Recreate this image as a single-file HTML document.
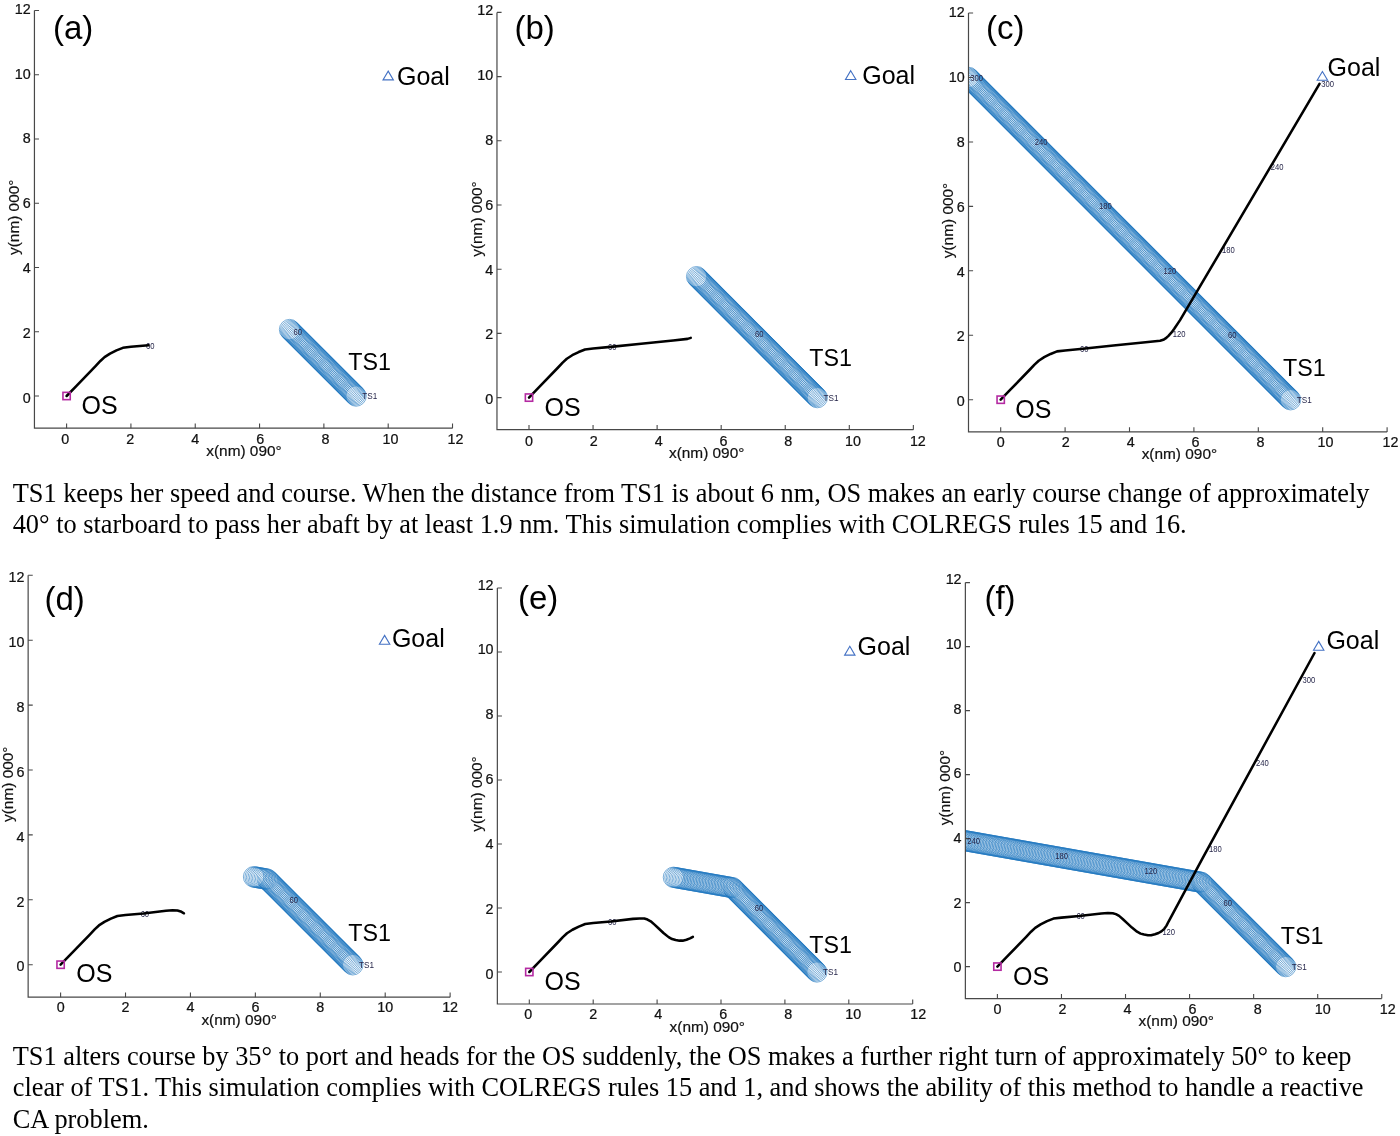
<!DOCTYPE html>
<html lang="en"><head><meta charset="utf-8"><title>Collision avoidance simulation</title>
<style>
html,body{margin:0;padding:0;background:#fff;}
body{width:1400px;height:1136px;overflow:hidden;}
svg{display:block;}
.sans{font-family:"Liberation Sans",Arial,Helvetica,sans-serif;}
.serif{font-family:"Liberation Serif","Times New Roman",Times,serif;}
.tk{font-size:15.4px;fill:#111;stroke:#111;stroke-width:0.25px;}
.al{font-size:15.4px;fill:#111;stroke:#111;stroke-width:0.2px;}
.pl{font-size:33px;fill:#000;}
.big{font-size:25px;fill:#000;}
.sm{font-size:8.5px;fill:#26264a;}
.cap{font-size:26.35px;fill:#000;}
.ts circle{fill:none;stroke:#2077c0;stroke-width:0.6;}
</style></head><body>
<svg width="1400" height="1136" viewBox="0 0 1400 1136" role="img" aria-label="Collision avoidance simulation plots">
<rect width="1400" height="1136" fill="#fff"/>
<g id="panel-a" class="sans">
<clipPath id="clip-a"><rect x="34.44" y="8.44" width="420.08" height="419.69"/></clipPath>
<g class="ts" clip-path="url(#clip-a)">
<circle cx="356.04" cy="396" r="10.23"/><circle cx="354.97" cy="394.93" r="10.23"/><circle cx="353.9" cy="393.86" r="10.23"/><circle cx="352.82" cy="392.79" r="10.23"/><circle cx="351.75" cy="391.72" r="10.23"/><circle cx="350.68" cy="390.64" r="10.23"/>
<circle cx="349.61" cy="389.57" r="10.23"/><circle cx="348.54" cy="388.5" r="10.23"/><circle cx="347.46" cy="387.43" r="10.23"/><circle cx="346.39" cy="386.36" r="10.23"/><circle cx="345.32" cy="385.29" r="10.23"/><circle cx="344.25" cy="384.22" r="10.23"/>
<circle cx="343.18" cy="383.15" r="10.23"/><circle cx="342.1" cy="382.08" r="10.23"/><circle cx="341.03" cy="381.01" r="10.23"/><circle cx="339.96" cy="379.94" r="10.23"/><circle cx="338.89" cy="378.86" r="10.23"/><circle cx="337.82" cy="377.79" r="10.23"/>
<circle cx="336.74" cy="376.72" r="10.23"/><circle cx="335.67" cy="375.65" r="10.23"/><circle cx="334.6" cy="374.58" r="10.23"/><circle cx="333.53" cy="373.51" r="10.23"/><circle cx="332.46" cy="372.44" r="10.23"/><circle cx="331.38" cy="371.37" r="10.23"/>
<circle cx="330.31" cy="370.3" r="10.23"/><circle cx="329.24" cy="369.23" r="10.23"/><circle cx="328.17" cy="368.15" r="10.23"/><circle cx="327.1" cy="367.08" r="10.23"/><circle cx="326.02" cy="366.01" r="10.23"/><circle cx="324.95" cy="364.94" r="10.23"/>
<circle cx="323.88" cy="363.87" r="10.23"/><circle cx="322.81" cy="362.8" r="10.23"/><circle cx="321.74" cy="361.73" r="10.23"/><circle cx="320.66" cy="360.66" r="10.23"/><circle cx="319.59" cy="359.59" r="10.23"/><circle cx="318.52" cy="358.51" r="10.23"/>
<circle cx="317.45" cy="357.44" r="10.23"/><circle cx="316.38" cy="356.37" r="10.23"/><circle cx="315.3" cy="355.3" r="10.23"/><circle cx="314.23" cy="354.23" r="10.23"/><circle cx="313.16" cy="353.16" r="10.23"/><circle cx="312.09" cy="352.09" r="10.23"/>
<circle cx="311.02" cy="351.02" r="10.23"/><circle cx="309.94" cy="349.95" r="10.23"/><circle cx="308.87" cy="348.88" r="10.23"/><circle cx="307.8" cy="347.81" r="10.23"/><circle cx="306.73" cy="346.73" r="10.23"/><circle cx="305.66" cy="345.66" r="10.23"/>
<circle cx="304.58" cy="344.59" r="10.23"/><circle cx="303.51" cy="343.52" r="10.23"/><circle cx="302.44" cy="342.45" r="10.23"/><circle cx="301.37" cy="341.38" r="10.23"/><circle cx="300.3" cy="340.31" r="10.23"/><circle cx="299.22" cy="339.24" r="10.23"/>
<circle cx="298.15" cy="338.17" r="10.23"/><circle cx="297.08" cy="337.1" r="10.23"/><circle cx="296.01" cy="336.02" r="10.23"/><circle cx="294.94" cy="334.95" r="10.23"/><circle cx="293.86" cy="333.88" r="10.23"/><circle cx="292.79" cy="332.81" r="10.23"/>
<circle cx="291.72" cy="331.74" r="10.23"/><circle cx="290.65" cy="330.67" r="10.23"/><circle cx="289.58" cy="329.6" r="10.23"/>
</g>
<path d="M34.44 10.44V428.13H452.52" fill="none" stroke="#484848" stroke-width="1.2"/>
<path d="M66.6 428.13v-4.6M34.44 396h4.6M130.92 428.13v-4.6M34.44 331.74h4.6M195.24 428.13v-4.6M34.44 267.48h4.6M259.56 428.13v-4.6M34.44 203.22h4.6M323.88 428.13v-4.6M34.44 138.96h4.6M388.2 428.13v-4.6M34.44 74.7h4.6M452.52 428.13v-4.6M34.44 10.44h4.6" fill="none" stroke="#484848" stroke-width="1.1"/>
<text class="tk" transform="translate(65.1 444.03) scale(.93 1)" text-anchor="middle">0</text>
<text class="tk" transform="translate(30.64 402.6) scale(.93 1)" text-anchor="end">0</text>
<text class="tk" transform="translate(130.17 444.03) scale(.93 1)" text-anchor="middle">2</text>
<text class="tk" transform="translate(30.64 337.8) scale(.93 1)" text-anchor="end">2</text>
<text class="tk" transform="translate(195.24 444.03) scale(.93 1)" text-anchor="middle">4</text>
<text class="tk" transform="translate(30.64 273) scale(.93 1)" text-anchor="end">4</text>
<text class="tk" transform="translate(260.31 444.03) scale(.93 1)" text-anchor="middle">6</text>
<text class="tk" transform="translate(30.64 208.2) scale(.93 1)" text-anchor="end">6</text>
<text class="tk" transform="translate(325.38 444.03) scale(.93 1)" text-anchor="middle">8</text>
<text class="tk" transform="translate(30.64 143.4) scale(.93 1)" text-anchor="end">8</text>
<text class="tk" transform="translate(390.45 444.03) scale(.93 1)" text-anchor="middle">10</text>
<text class="tk" transform="translate(30.64 78.6) scale(.93 1)" text-anchor="end">10</text>
<text class="tk" transform="translate(455.52 444.03) scale(.93 1)" text-anchor="middle">12</text>
<text class="tk" transform="translate(30.64 13.8) scale(.93 1)" text-anchor="end">12</text>
<text class="al" x="243.98" y="456.33" text-anchor="middle">x(nm) 090°</text>
<text class="al" transform="translate(19.14 217.28) rotate(-90)" text-anchor="middle">y(nm) 000°</text>
<path d="M388.2 71.1l5.2 8.8h-10.4z" fill="none" stroke="#4472c4" stroke-width="1.1"/>
<text class="sm" x="362.24" y="399.3" textLength="15" lengthAdjust="spacingAndGlyphs">TS1</text>
<text class="sm" x="293.52" y="334.84" textLength="8.5" lengthAdjust="spacingAndGlyphs">60</text>
<text class="sm" x="145.91" y="348.66" textLength="8.5" lengthAdjust="spacingAndGlyphs">60</text>
<path d="M66.6 396L76.25 386.04L95.54 366.12L100.37 360.98L104.55 357.12L110.02 353.59L116.45 350.38L122.88 347.81L130.92 346.84L148.61 345.23" fill="none" stroke="#000" stroke-width="2.55" stroke-linejoin="round" stroke-linecap="round"/>
<rect x="62.95" y="392.35" width="7.3" height="7.3" fill="none" stroke="#b42aa2" stroke-width="1.6"/>
<text class="pl" x="53" y="38.6">(a)</text>
<text class="big" x="397" y="84.6">Goal</text>
<text class="big" style="font-size:24.3px" x="348.3" y="369.5" textLength="42.7" lengthAdjust="spacingAndGlyphs">TS1</text>
<text class="big" x="81.6" y="413.8">OS</text>
</g>
<g id="panel-b" class="sans">
<clipPath id="clip-b"><rect x="496.97" y="10.4" width="418.39" height="419.3"/></clipPath>
<g class="ts" clip-path="url(#clip-b)">
<circle cx="817.27" cy="397.6" r="10.19"/><circle cx="816.2" cy="396.53" r="10.19"/><circle cx="815.13" cy="395.46" r="10.19"/><circle cx="814.07" cy="394.39" r="10.19"/><circle cx="813" cy="393.32" r="10.19"/><circle cx="811.93" cy="392.25" r="10.19"/>
<circle cx="810.86" cy="391.18" r="10.19"/><circle cx="809.8" cy="390.11" r="10.19"/><circle cx="808.73" cy="389.04" r="10.19"/><circle cx="807.66" cy="387.97" r="10.19"/><circle cx="806.59" cy="386.9" r="10.19"/><circle cx="805.53" cy="385.83" r="10.19"/>
<circle cx="804.46" cy="384.76" r="10.19"/><circle cx="803.39" cy="383.69" r="10.19"/><circle cx="802.32" cy="382.62" r="10.19"/><circle cx="801.25" cy="381.55" r="10.19"/><circle cx="800.19" cy="380.48" r="10.19"/><circle cx="799.12" cy="379.41" r="10.19"/>
<circle cx="798.05" cy="378.34" r="10.19"/><circle cx="796.98" cy="377.27" r="10.19"/><circle cx="795.92" cy="376.2" r="10.19"/><circle cx="794.85" cy="375.13" r="10.19"/><circle cx="793.78" cy="374.06" r="10.19"/><circle cx="792.71" cy="372.99" r="10.19"/>
<circle cx="791.65" cy="371.92" r="10.19"/><circle cx="790.58" cy="370.85" r="10.19"/><circle cx="789.51" cy="369.78" r="10.19"/><circle cx="788.44" cy="368.71" r="10.19"/><circle cx="787.38" cy="367.64" r="10.19"/><circle cx="786.31" cy="366.57" r="10.19"/>
<circle cx="785.24" cy="365.5" r="10.19"/><circle cx="784.17" cy="364.43" r="10.19"/><circle cx="783.1" cy="363.36" r="10.19"/><circle cx="782.04" cy="362.29" r="10.19"/><circle cx="780.97" cy="361.22" r="10.19"/><circle cx="779.9" cy="360.15" r="10.19"/>
<circle cx="778.83" cy="359.08" r="10.19"/><circle cx="777.77" cy="358.01" r="10.19"/><circle cx="776.7" cy="356.94" r="10.19"/><circle cx="775.63" cy="355.87" r="10.19"/><circle cx="774.56" cy="354.8" r="10.19"/><circle cx="773.5" cy="353.73" r="10.19"/>
<circle cx="772.43" cy="352.66" r="10.19"/><circle cx="771.36" cy="351.59" r="10.19"/><circle cx="770.29" cy="350.52" r="10.19"/><circle cx="769.23" cy="349.45" r="10.19"/><circle cx="768.16" cy="348.38" r="10.19"/><circle cx="767.09" cy="347.31" r="10.19"/>
<circle cx="766.02" cy="346.24" r="10.19"/><circle cx="764.95" cy="345.17" r="10.19"/><circle cx="763.89" cy="344.1" r="10.19"/><circle cx="762.82" cy="343.03" r="10.19"/><circle cx="761.75" cy="341.96" r="10.19"/><circle cx="760.68" cy="340.89" r="10.19"/>
<circle cx="759.62" cy="339.82" r="10.19"/><circle cx="758.55" cy="338.75" r="10.19"/><circle cx="757.48" cy="337.68" r="10.19"/><circle cx="756.41" cy="336.61" r="10.19"/><circle cx="755.35" cy="335.54" r="10.19"/><circle cx="754.28" cy="334.47" r="10.19"/>
<circle cx="753.21" cy="333.4" r="10.19"/><circle cx="752.14" cy="332.33" r="10.19"/><circle cx="751.07" cy="331.26" r="10.19"/><circle cx="750.01" cy="330.19" r="10.19"/><circle cx="748.94" cy="329.12" r="10.19"/><circle cx="747.87" cy="328.05" r="10.19"/>
<circle cx="746.8" cy="326.98" r="10.19"/><circle cx="745.74" cy="325.91" r="10.19"/><circle cx="744.67" cy="324.84" r="10.19"/><circle cx="743.6" cy="323.77" r="10.19"/><circle cx="742.53" cy="322.7" r="10.19"/><circle cx="741.47" cy="321.63" r="10.19"/>
<circle cx="740.4" cy="320.56" r="10.19"/><circle cx="739.33" cy="319.49" r="10.19"/><circle cx="738.26" cy="318.42" r="10.19"/><circle cx="737.19" cy="317.35" r="10.19"/><circle cx="736.13" cy="316.28" r="10.19"/><circle cx="735.06" cy="315.21" r="10.19"/>
<circle cx="733.99" cy="314.14" r="10.19"/><circle cx="732.92" cy="313.07" r="10.19"/><circle cx="731.86" cy="312" r="10.19"/><circle cx="730.79" cy="310.93" r="10.19"/><circle cx="729.72" cy="309.86" r="10.19"/><circle cx="728.65" cy="308.79" r="10.19"/>
<circle cx="727.59" cy="307.72" r="10.19"/><circle cx="726.52" cy="306.65" r="10.19"/><circle cx="725.45" cy="305.58" r="10.19"/><circle cx="724.38" cy="304.51" r="10.19"/><circle cx="723.32" cy="303.44" r="10.19"/><circle cx="722.25" cy="302.37" r="10.19"/>
<circle cx="721.18" cy="301.3" r="10.19"/><circle cx="720.11" cy="300.23" r="10.19"/><circle cx="719.04" cy="299.16" r="10.19"/><circle cx="717.98" cy="298.09" r="10.19"/><circle cx="716.91" cy="297.02" r="10.19"/><circle cx="715.84" cy="295.95" r="10.19"/>
<circle cx="714.77" cy="294.88" r="10.19"/><circle cx="713.71" cy="293.81" r="10.19"/><circle cx="712.64" cy="292.74" r="10.19"/><circle cx="711.57" cy="291.67" r="10.19"/><circle cx="710.5" cy="290.6" r="10.19"/><circle cx="709.44" cy="289.53" r="10.19"/>
<circle cx="708.37" cy="288.46" r="10.19"/><circle cx="707.3" cy="287.39" r="10.19"/><circle cx="706.23" cy="286.32" r="10.19"/><circle cx="705.16" cy="285.25" r="10.19"/><circle cx="704.1" cy="284.18" r="10.19"/><circle cx="703.03" cy="283.11" r="10.19"/>
<circle cx="701.96" cy="282.04" r="10.19"/><circle cx="700.89" cy="280.97" r="10.19"/><circle cx="699.83" cy="279.9" r="10.19"/><circle cx="698.76" cy="278.83" r="10.19"/><circle cx="697.69" cy="277.76" r="10.19"/><circle cx="696.62" cy="276.69" r="10.19"/>
</g>
<path d="M496.97 12.4V429.7H913.36" fill="none" stroke="#484848" stroke-width="1.2"/>
<path d="M529 429.7v-4.6M496.97 397.6h4.6M593.06 429.7v-4.6M496.97 333.4h4.6M657.12 429.7v-4.6M496.97 269.2h4.6M721.18 429.7v-4.6M496.97 205h4.6M785.24 429.7v-4.6M496.97 140.8h4.6M849.3 429.7v-4.6M496.97 76.6h4.6M913.36 429.7v-4.6M496.97 12.4h4.6" fill="none" stroke="#484848" stroke-width="1.1"/>
<text class="tk" transform="translate(529 445.6) scale(.93 1)" text-anchor="middle">0</text>
<text class="tk" transform="translate(493.17 404.25) scale(.93 1)" text-anchor="end">0</text>
<text class="tk" transform="translate(593.81 445.6) scale(.93 1)" text-anchor="middle">2</text>
<text class="tk" transform="translate(493.17 339.39) scale(.93 1)" text-anchor="end">2</text>
<text class="tk" transform="translate(658.62 445.6) scale(.93 1)" text-anchor="middle">4</text>
<text class="tk" transform="translate(493.17 274.53) scale(.93 1)" text-anchor="end">4</text>
<text class="tk" transform="translate(723.43 445.6) scale(.93 1)" text-anchor="middle">6</text>
<text class="tk" transform="translate(493.17 209.67) scale(.93 1)" text-anchor="end">6</text>
<text class="tk" transform="translate(788.24 445.6) scale(.93 1)" text-anchor="middle">8</text>
<text class="tk" transform="translate(493.17 144.81) scale(.93 1)" text-anchor="end">8</text>
<text class="tk" transform="translate(853.05 445.6) scale(.93 1)" text-anchor="middle">10</text>
<text class="tk" transform="translate(493.17 79.95) scale(.93 1)" text-anchor="end">10</text>
<text class="tk" transform="translate(917.86 445.6) scale(.93 1)" text-anchor="middle">12</text>
<text class="tk" transform="translate(493.17 15.09) scale(.93 1)" text-anchor="end">12</text>
<text class="al" x="706.66" y="457.7" text-anchor="middle">x(nm) 090°</text>
<text class="al" transform="translate(481.67 219.05) rotate(-90)" text-anchor="middle">y(nm) 000°</text>
<path d="M850.7 70.7l5.2 8.8h-10.4z" fill="none" stroke="#4472c4" stroke-width="1.1"/>
<text class="sm" x="823.47" y="400.9" textLength="15" lengthAdjust="spacingAndGlyphs">TS1</text>
<text class="sm" x="755.01" y="336.5" textLength="8.5" lengthAdjust="spacingAndGlyphs">60</text>
<text class="sm" x="607.99" y="350.3" textLength="8.5" lengthAdjust="spacingAndGlyphs">60</text>
<path d="M529 397.6L538.61 387.65L557.83 367.75L562.63 362.61L566.8 358.76L572.24 355.23L578.65 352.02L585.05 349.45L593.06 348.49L610.68 346.88L641.11 343.67L673.13 340.46L687.55 338.86L690.75 337.89" fill="none" stroke="#000" stroke-width="2.55" stroke-linejoin="round" stroke-linecap="round"/>
<rect x="525.35" y="393.95" width="7.3" height="7.3" fill="none" stroke="#b42aa2" stroke-width="1.6"/>
<text class="pl" x="514.4" y="38.6">(b)</text>
<text class="big" x="862.2" y="84.1">Goal</text>
<text class="big" style="font-size:24.3px" x="809.2" y="366.2" textLength="42.7" lengthAdjust="spacingAndGlyphs">TS1</text>
<text class="big" x="544.5" y="415.9">OS</text>
</g>
<g id="panel-c" class="sans">
<clipPath id="clip-c"><rect x="968.5" y="11.06" width="420.6" height="420.86"/></clipPath>
<g class="ts" clip-path="url(#clip-c)">
<circle cx="1290.5" cy="399.7" r="10.24"/><circle cx="1289.43" cy="398.63" r="10.24"/><circle cx="1288.35" cy="397.55" r="10.24"/><circle cx="1287.28" cy="396.48" r="10.24"/><circle cx="1286.21" cy="395.4" r="10.24"/><circle cx="1285.13" cy="394.33" r="10.24"/>
<circle cx="1284.06" cy="393.26" r="10.24"/><circle cx="1282.99" cy="392.18" r="10.24"/><circle cx="1281.91" cy="391.11" r="10.24"/><circle cx="1280.84" cy="390.03" r="10.24"/><circle cx="1279.77" cy="388.96" r="10.24"/><circle cx="1278.69" cy="387.89" r="10.24"/>
<circle cx="1277.62" cy="386.81" r="10.24"/><circle cx="1276.55" cy="385.74" r="10.24"/><circle cx="1275.47" cy="384.66" r="10.24"/><circle cx="1274.4" cy="383.59" r="10.24"/><circle cx="1273.33" cy="382.52" r="10.24"/><circle cx="1272.25" cy="381.44" r="10.24"/>
<circle cx="1271.18" cy="380.37" r="10.24"/><circle cx="1270.11" cy="379.29" r="10.24"/><circle cx="1269.03" cy="378.22" r="10.24"/><circle cx="1267.96" cy="377.15" r="10.24"/><circle cx="1266.89" cy="376.07" r="10.24"/><circle cx="1265.81" cy="375" r="10.24"/>
<circle cx="1264.74" cy="373.92" r="10.24"/><circle cx="1263.67" cy="372.85" r="10.24"/><circle cx="1262.59" cy="371.78" r="10.24"/><circle cx="1261.52" cy="370.7" r="10.24"/><circle cx="1260.45" cy="369.63" r="10.24"/><circle cx="1259.37" cy="368.55" r="10.24"/>
<circle cx="1258.3" cy="367.48" r="10.24"/><circle cx="1257.23" cy="366.41" r="10.24"/><circle cx="1256.15" cy="365.33" r="10.24"/><circle cx="1255.08" cy="364.26" r="10.24"/><circle cx="1254.01" cy="363.18" r="10.24"/><circle cx="1252.93" cy="362.11" r="10.24"/>
<circle cx="1251.86" cy="361.04" r="10.24"/><circle cx="1250.79" cy="359.96" r="10.24"/><circle cx="1249.71" cy="358.89" r="10.24"/><circle cx="1248.64" cy="357.81" r="10.24"/><circle cx="1247.57" cy="356.74" r="10.24"/><circle cx="1246.49" cy="355.67" r="10.24"/>
<circle cx="1245.42" cy="354.59" r="10.24"/><circle cx="1244.35" cy="353.52" r="10.24"/><circle cx="1243.27" cy="352.44" r="10.24"/><circle cx="1242.2" cy="351.37" r="10.24"/><circle cx="1241.13" cy="350.3" r="10.24"/><circle cx="1240.05" cy="349.22" r="10.24"/>
<circle cx="1238.98" cy="348.15" r="10.24"/><circle cx="1237.91" cy="347.07" r="10.24"/><circle cx="1236.83" cy="346" r="10.24"/><circle cx="1235.76" cy="344.93" r="10.24"/><circle cx="1234.69" cy="343.85" r="10.24"/><circle cx="1233.61" cy="342.78" r="10.24"/>
<circle cx="1232.54" cy="341.7" r="10.24"/><circle cx="1231.47" cy="340.63" r="10.24"/><circle cx="1230.39" cy="339.56" r="10.24"/><circle cx="1229.32" cy="338.48" r="10.24"/><circle cx="1228.25" cy="337.41" r="10.24"/><circle cx="1227.17" cy="336.33" r="10.24"/>
<circle cx="1226.1" cy="335.26" r="10.24"/><circle cx="1225.03" cy="334.19" r="10.24"/><circle cx="1223.95" cy="333.11" r="10.24"/><circle cx="1222.88" cy="332.04" r="10.24"/><circle cx="1221.81" cy="330.96" r="10.24"/><circle cx="1220.73" cy="329.89" r="10.24"/>
<circle cx="1219.66" cy="328.82" r="10.24"/><circle cx="1218.59" cy="327.74" r="10.24"/><circle cx="1217.51" cy="326.67" r="10.24"/><circle cx="1216.44" cy="325.59" r="10.24"/><circle cx="1215.37" cy="324.52" r="10.24"/><circle cx="1214.29" cy="323.45" r="10.24"/>
<circle cx="1213.22" cy="322.37" r="10.24"/><circle cx="1212.15" cy="321.3" r="10.24"/><circle cx="1211.07" cy="320.22" r="10.24"/><circle cx="1210" cy="319.15" r="10.24"/><circle cx="1208.93" cy="318.08" r="10.24"/><circle cx="1207.85" cy="317" r="10.24"/>
<circle cx="1206.78" cy="315.93" r="10.24"/><circle cx="1205.71" cy="314.85" r="10.24"/><circle cx="1204.63" cy="313.78" r="10.24"/><circle cx="1203.56" cy="312.71" r="10.24"/><circle cx="1202.49" cy="311.63" r="10.24"/><circle cx="1201.41" cy="310.56" r="10.24"/>
<circle cx="1200.34" cy="309.48" r="10.24"/><circle cx="1199.27" cy="308.41" r="10.24"/><circle cx="1198.19" cy="307.34" r="10.24"/><circle cx="1197.12" cy="306.26" r="10.24"/><circle cx="1196.05" cy="305.19" r="10.24"/><circle cx="1194.97" cy="304.11" r="10.24"/>
<circle cx="1193.9" cy="303.04" r="10.24"/><circle cx="1192.83" cy="301.97" r="10.24"/><circle cx="1191.75" cy="300.89" r="10.24"/><circle cx="1190.68" cy="299.82" r="10.24"/><circle cx="1189.61" cy="298.74" r="10.24"/><circle cx="1188.53" cy="297.67" r="10.24"/>
<circle cx="1187.46" cy="296.6" r="10.24"/><circle cx="1186.39" cy="295.52" r="10.24"/><circle cx="1185.31" cy="294.45" r="10.24"/><circle cx="1184.24" cy="293.37" r="10.24"/><circle cx="1183.17" cy="292.3" r="10.24"/><circle cx="1182.09" cy="291.23" r="10.24"/>
<circle cx="1181.02" cy="290.15" r="10.24"/><circle cx="1179.95" cy="289.08" r="10.24"/><circle cx="1178.87" cy="288" r="10.24"/><circle cx="1177.8" cy="286.93" r="10.24"/><circle cx="1176.73" cy="285.86" r="10.24"/><circle cx="1175.65" cy="284.78" r="10.24"/>
<circle cx="1174.58" cy="283.71" r="10.24"/><circle cx="1173.51" cy="282.63" r="10.24"/><circle cx="1172.43" cy="281.56" r="10.24"/><circle cx="1171.36" cy="280.49" r="10.24"/><circle cx="1170.29" cy="279.41" r="10.24"/><circle cx="1169.21" cy="278.34" r="10.24"/>
<circle cx="1168.14" cy="277.26" r="10.24"/><circle cx="1167.07" cy="276.19" r="10.24"/><circle cx="1165.99" cy="275.12" r="10.24"/><circle cx="1164.92" cy="274.04" r="10.24"/><circle cx="1163.85" cy="272.97" r="10.24"/><circle cx="1162.77" cy="271.89" r="10.24"/>
<circle cx="1161.7" cy="270.82" r="10.24"/><circle cx="1160.63" cy="269.75" r="10.24"/><circle cx="1159.55" cy="268.67" r="10.24"/><circle cx="1158.48" cy="267.6" r="10.24"/><circle cx="1157.41" cy="266.52" r="10.24"/><circle cx="1156.33" cy="265.45" r="10.24"/>
<circle cx="1155.26" cy="264.38" r="10.24"/><circle cx="1154.19" cy="263.3" r="10.24"/><circle cx="1153.11" cy="262.23" r="10.24"/><circle cx="1152.04" cy="261.15" r="10.24"/><circle cx="1150.97" cy="260.08" r="10.24"/><circle cx="1149.89" cy="259.01" r="10.24"/>
<circle cx="1148.82" cy="257.93" r="10.24"/><circle cx="1147.75" cy="256.86" r="10.24"/><circle cx="1146.67" cy="255.78" r="10.24"/><circle cx="1145.6" cy="254.71" r="10.24"/><circle cx="1144.53" cy="253.64" r="10.24"/><circle cx="1143.45" cy="252.56" r="10.24"/>
<circle cx="1142.38" cy="251.49" r="10.24"/><circle cx="1141.31" cy="250.41" r="10.24"/><circle cx="1140.23" cy="249.34" r="10.24"/><circle cx="1139.16" cy="248.27" r="10.24"/><circle cx="1138.09" cy="247.19" r="10.24"/><circle cx="1137.01" cy="246.12" r="10.24"/>
<circle cx="1135.94" cy="245.04" r="10.24"/><circle cx="1134.87" cy="243.97" r="10.24"/><circle cx="1133.79" cy="242.9" r="10.24"/><circle cx="1132.72" cy="241.82" r="10.24"/><circle cx="1131.65" cy="240.75" r="10.24"/><circle cx="1130.57" cy="239.67" r="10.24"/>
<circle cx="1129.5" cy="238.6" r="10.24"/><circle cx="1128.43" cy="237.53" r="10.24"/><circle cx="1127.35" cy="236.45" r="10.24"/><circle cx="1126.28" cy="235.38" r="10.24"/><circle cx="1125.21" cy="234.3" r="10.24"/><circle cx="1124.13" cy="233.23" r="10.24"/>
<circle cx="1123.06" cy="232.16" r="10.24"/><circle cx="1121.99" cy="231.08" r="10.24"/><circle cx="1120.91" cy="230.01" r="10.24"/><circle cx="1119.84" cy="228.93" r="10.24"/><circle cx="1118.77" cy="227.86" r="10.24"/><circle cx="1117.69" cy="226.79" r="10.24"/>
<circle cx="1116.62" cy="225.71" r="10.24"/><circle cx="1115.55" cy="224.64" r="10.24"/><circle cx="1114.47" cy="223.56" r="10.24"/><circle cx="1113.4" cy="222.49" r="10.24"/><circle cx="1112.33" cy="221.42" r="10.24"/><circle cx="1111.25" cy="220.34" r="10.24"/>
<circle cx="1110.18" cy="219.27" r="10.24"/><circle cx="1109.11" cy="218.19" r="10.24"/><circle cx="1108.03" cy="217.12" r="10.24"/><circle cx="1106.96" cy="216.05" r="10.24"/><circle cx="1105.89" cy="214.97" r="10.24"/><circle cx="1104.81" cy="213.9" r="10.24"/>
<circle cx="1103.74" cy="212.82" r="10.24"/><circle cx="1102.67" cy="211.75" r="10.24"/><circle cx="1101.59" cy="210.68" r="10.24"/><circle cx="1100.52" cy="209.6" r="10.24"/><circle cx="1099.45" cy="208.53" r="10.24"/><circle cx="1098.37" cy="207.45" r="10.24"/>
<circle cx="1097.3" cy="206.38" r="10.24"/><circle cx="1096.23" cy="205.31" r="10.24"/><circle cx="1095.15" cy="204.23" r="10.24"/><circle cx="1094.08" cy="203.16" r="10.24"/><circle cx="1093.01" cy="202.08" r="10.24"/><circle cx="1091.93" cy="201.01" r="10.24"/>
<circle cx="1090.86" cy="199.94" r="10.24"/><circle cx="1089.79" cy="198.86" r="10.24"/><circle cx="1088.71" cy="197.79" r="10.24"/><circle cx="1087.64" cy="196.71" r="10.24"/><circle cx="1086.57" cy="195.64" r="10.24"/><circle cx="1085.49" cy="194.57" r="10.24"/>
<circle cx="1084.42" cy="193.49" r="10.24"/><circle cx="1083.35" cy="192.42" r="10.24"/><circle cx="1082.27" cy="191.34" r="10.24"/><circle cx="1081.2" cy="190.27" r="10.24"/><circle cx="1080.13" cy="189.2" r="10.24"/><circle cx="1079.05" cy="188.12" r="10.24"/>
<circle cx="1077.98" cy="187.05" r="10.24"/><circle cx="1076.91" cy="185.97" r="10.24"/><circle cx="1075.83" cy="184.9" r="10.24"/><circle cx="1074.76" cy="183.83" r="10.24"/><circle cx="1073.69" cy="182.75" r="10.24"/><circle cx="1072.61" cy="181.68" r="10.24"/>
<circle cx="1071.54" cy="180.6" r="10.24"/><circle cx="1070.47" cy="179.53" r="10.24"/><circle cx="1069.39" cy="178.46" r="10.24"/><circle cx="1068.32" cy="177.38" r="10.24"/><circle cx="1067.25" cy="176.31" r="10.24"/><circle cx="1066.17" cy="175.23" r="10.24"/>
<circle cx="1065.1" cy="174.16" r="10.24"/><circle cx="1064.03" cy="173.09" r="10.24"/><circle cx="1062.95" cy="172.01" r="10.24"/><circle cx="1061.88" cy="170.94" r="10.24"/><circle cx="1060.81" cy="169.86" r="10.24"/><circle cx="1059.73" cy="168.79" r="10.24"/>
<circle cx="1058.66" cy="167.72" r="10.24"/><circle cx="1057.59" cy="166.64" r="10.24"/><circle cx="1056.51" cy="165.57" r="10.24"/><circle cx="1055.44" cy="164.49" r="10.24"/><circle cx="1054.37" cy="163.42" r="10.24"/><circle cx="1053.29" cy="162.35" r="10.24"/>
<circle cx="1052.22" cy="161.27" r="10.24"/><circle cx="1051.15" cy="160.2" r="10.24"/><circle cx="1050.07" cy="159.12" r="10.24"/><circle cx="1049" cy="158.05" r="10.24"/><circle cx="1047.93" cy="156.98" r="10.24"/><circle cx="1046.85" cy="155.9" r="10.24"/>
<circle cx="1045.78" cy="154.83" r="10.24"/><circle cx="1044.71" cy="153.75" r="10.24"/><circle cx="1043.63" cy="152.68" r="10.24"/><circle cx="1042.56" cy="151.61" r="10.24"/><circle cx="1041.49" cy="150.53" r="10.24"/><circle cx="1040.41" cy="149.46" r="10.24"/>
<circle cx="1039.34" cy="148.38" r="10.24"/><circle cx="1038.27" cy="147.31" r="10.24"/><circle cx="1037.19" cy="146.24" r="10.24"/><circle cx="1036.12" cy="145.16" r="10.24"/><circle cx="1035.05" cy="144.09" r="10.24"/><circle cx="1033.97" cy="143.01" r="10.24"/>
<circle cx="1032.9" cy="141.94" r="10.24"/><circle cx="1031.83" cy="140.87" r="10.24"/><circle cx="1030.75" cy="139.79" r="10.24"/><circle cx="1029.68" cy="138.72" r="10.24"/><circle cx="1028.61" cy="137.64" r="10.24"/><circle cx="1027.53" cy="136.57" r="10.24"/>
<circle cx="1026.46" cy="135.5" r="10.24"/><circle cx="1025.39" cy="134.42" r="10.24"/><circle cx="1024.31" cy="133.35" r="10.24"/><circle cx="1023.24" cy="132.27" r="10.24"/><circle cx="1022.17" cy="131.2" r="10.24"/><circle cx="1021.09" cy="130.13" r="10.24"/>
<circle cx="1020.02" cy="129.05" r="10.24"/><circle cx="1018.95" cy="127.98" r="10.24"/><circle cx="1017.87" cy="126.9" r="10.24"/><circle cx="1016.8" cy="125.83" r="10.24"/><circle cx="1015.73" cy="124.76" r="10.24"/><circle cx="1014.65" cy="123.68" r="10.24"/>
<circle cx="1013.58" cy="122.61" r="10.24"/><circle cx="1012.51" cy="121.53" r="10.24"/><circle cx="1011.43" cy="120.46" r="10.24"/><circle cx="1010.36" cy="119.39" r="10.24"/><circle cx="1009.29" cy="118.31" r="10.24"/><circle cx="1008.21" cy="117.24" r="10.24"/>
<circle cx="1007.14" cy="116.16" r="10.24"/><circle cx="1006.07" cy="115.09" r="10.24"/><circle cx="1004.99" cy="114.02" r="10.24"/><circle cx="1003.92" cy="112.94" r="10.24"/><circle cx="1002.85" cy="111.87" r="10.24"/><circle cx="1001.77" cy="110.79" r="10.24"/>
<circle cx="1000.7" cy="109.72" r="10.24"/><circle cx="999.63" cy="108.65" r="10.24"/><circle cx="998.55" cy="107.57" r="10.24"/><circle cx="997.48" cy="106.5" r="10.24"/><circle cx="996.41" cy="105.42" r="10.24"/><circle cx="995.33" cy="104.35" r="10.24"/>
<circle cx="994.26" cy="103.28" r="10.24"/><circle cx="993.19" cy="102.2" r="10.24"/><circle cx="992.11" cy="101.13" r="10.24"/><circle cx="991.04" cy="100.05" r="10.24"/><circle cx="989.97" cy="98.98" r="10.24"/><circle cx="988.89" cy="97.91" r="10.24"/>
<circle cx="987.82" cy="96.83" r="10.24"/><circle cx="986.75" cy="95.76" r="10.24"/><circle cx="985.67" cy="94.68" r="10.24"/><circle cx="984.6" cy="93.61" r="10.24"/><circle cx="983.53" cy="92.54" r="10.24"/><circle cx="982.45" cy="91.46" r="10.24"/>
<circle cx="981.38" cy="90.39" r="10.24"/><circle cx="980.31" cy="89.31" r="10.24"/><circle cx="979.23" cy="88.24" r="10.24"/><circle cx="978.16" cy="87.17" r="10.24"/><circle cx="977.09" cy="86.09" r="10.24"/><circle cx="976.01" cy="85.02" r="10.24"/>
<circle cx="974.94" cy="83.94" r="10.24"/><circle cx="973.87" cy="82.87" r="10.24"/><circle cx="972.79" cy="81.8" r="10.24"/><circle cx="971.72" cy="80.72" r="10.24"/><circle cx="970.65" cy="79.65" r="10.24"/><circle cx="969.57" cy="78.57" r="10.24"/>
<circle cx="968.5" cy="77.5" r="10.24"/>
</g>
<path d="M968.5 13.06V431.92H1387.1" fill="none" stroke="#484848" stroke-width="1.2"/>
<path d="M1000.7 431.92v-4.6M968.5 399.7h4.6M1065.1 431.92v-4.6M968.5 335.26h4.6M1129.5 431.92v-4.6M968.5 270.82h4.6M1193.9 431.92v-4.6M968.5 206.38h4.6M1258.3 431.92v-4.6M968.5 141.94h4.6M1322.7 431.92v-4.6M968.5 77.5h4.6M1387.1 431.92v-4.6M968.5 13.06h4.6" fill="none" stroke="#484848" stroke-width="1.1"/>
<text class="tk" transform="translate(1000.7 447.32) scale(.93 1)" text-anchor="middle">0</text>
<text class="tk" transform="translate(964.7 406.3) scale(.93 1)" text-anchor="end">0</text>
<text class="tk" transform="translate(1065.66 447.32) scale(.93 1)" text-anchor="middle">2</text>
<text class="tk" transform="translate(964.7 341.42) scale(.93 1)" text-anchor="end">2</text>
<text class="tk" transform="translate(1130.62 447.32) scale(.93 1)" text-anchor="middle">4</text>
<text class="tk" transform="translate(964.7 276.54) scale(.93 1)" text-anchor="end">4</text>
<text class="tk" transform="translate(1195.58 447.32) scale(.93 1)" text-anchor="middle">6</text>
<text class="tk" transform="translate(964.7 211.66) scale(.93 1)" text-anchor="end">6</text>
<text class="tk" transform="translate(1260.54 447.32) scale(.93 1)" text-anchor="middle">8</text>
<text class="tk" transform="translate(964.7 146.78) scale(.93 1)" text-anchor="end">8</text>
<text class="tk" transform="translate(1325.5 447.32) scale(.93 1)" text-anchor="middle">10</text>
<text class="tk" transform="translate(964.7 81.9) scale(.93 1)" text-anchor="end">10</text>
<text class="tk" transform="translate(1390.46 447.32) scale(.93 1)" text-anchor="middle">12</text>
<text class="tk" transform="translate(964.7 17.02) scale(.93 1)" text-anchor="end">12</text>
<text class="al" x="1179.4" y="459.42" text-anchor="middle">x(nm) 090°</text>
<text class="al" transform="translate(953.2 220.49) rotate(-90)" text-anchor="middle">y(nm) 000°</text>
<path d="M1322.4 71.5l5.2 8.8h-10.4z" fill="none" stroke="#4472c4" stroke-width="1.1"/>
<text class="sm" x="1296.7" y="403" textLength="15" lengthAdjust="spacingAndGlyphs">TS1</text>
<text class="sm" x="1227.9" y="338.36" textLength="8.5" lengthAdjust="spacingAndGlyphs">60</text>
<text class="sm" x="1163.5" y="273.92" textLength="12.75" lengthAdjust="spacingAndGlyphs">120</text>
<text class="sm" x="1099.1" y="209.48" textLength="12.75" lengthAdjust="spacingAndGlyphs">180</text>
<text class="sm" x="1034.7" y="145.04" textLength="12.75" lengthAdjust="spacingAndGlyphs">240</text>
<text class="sm" x="970.3" y="80.6" textLength="12.75" lengthAdjust="spacingAndGlyphs">300</text>
<text class="sm" x="1080.1" y="352.21" textLength="8.5" lengthAdjust="spacingAndGlyphs">60</text>
<text class="sm" x="1172.84" y="337.07" textLength="12.75" lengthAdjust="spacingAndGlyphs">120</text>
<text class="sm" x="1222.1" y="252.65" textLength="12.75" lengthAdjust="spacingAndGlyphs">180</text>
<text class="sm" x="1270.73" y="170.49" textLength="12.75" lengthAdjust="spacingAndGlyphs">240</text>
<text class="sm" x="1321.28" y="87.04" textLength="12.75" lengthAdjust="spacingAndGlyphs">300</text>
<path d="M1000.7 399.7L1010.36 389.71L1029.68 369.74L1034.51 364.58L1038.7 360.71L1044.17 357.17L1050.61 353.95L1057.05 351.37L1065.1 350.4L1082.81 348.79L1113.4 345.57L1145.6 342.35L1160.09 340.74L1163.31 339.77L1165.56 338.48L1168.46 335.9L1171.36 332.68L1174.26 328.82L1180.05 320.12L1319.48 83.94" fill="none" stroke="#000" stroke-width="2.55" stroke-linejoin="round" stroke-linecap="round"/>
<rect x="997.05" y="396.05" width="7.3" height="7.3" fill="none" stroke="#b42aa2" stroke-width="1.6"/>
<text class="pl" x="985.9" y="38.6">(c)</text>
<text class="big" x="1327.6" y="75.7">Goal</text>
<text class="big" style="font-size:24.3px" x="1283" y="376" textLength="42.7" lengthAdjust="spacingAndGlyphs">TS1</text>
<text class="big" x="1015.2" y="417.9">OS</text>
</g>
<g id="panel-d" class="sans">
<clipPath id="clip-d"><rect x="28.14" y="573.3" width="423.98" height="423.85"/></clipPath>
<g class="ts" clip-path="url(#clip-d)">
<circle cx="352.74" cy="964.7" r="10.32"/><circle cx="351.66" cy="963.62" r="10.32"/><circle cx="350.58" cy="962.54" r="10.32"/><circle cx="349.49" cy="961.46" r="10.32"/><circle cx="348.41" cy="960.37" r="10.32"/><circle cx="347.33" cy="959.29" r="10.32"/>
<circle cx="346.25" cy="958.21" r="10.32"/><circle cx="345.17" cy="957.13" r="10.32"/><circle cx="344.08" cy="956.05" r="10.32"/><circle cx="343" cy="954.97" r="10.32"/><circle cx="341.92" cy="953.88" r="10.32"/><circle cx="340.84" cy="952.8" r="10.32"/>
<circle cx="339.76" cy="951.72" r="10.32"/><circle cx="338.67" cy="950.64" r="10.32"/><circle cx="337.59" cy="949.56" r="10.32"/><circle cx="336.51" cy="948.48" r="10.32"/><circle cx="335.43" cy="947.39" r="10.32"/><circle cx="334.35" cy="946.31" r="10.32"/>
<circle cx="333.26" cy="945.23" r="10.32"/><circle cx="332.18" cy="944.15" r="10.32"/><circle cx="331.1" cy="943.07" r="10.32"/><circle cx="330.02" cy="941.99" r="10.32"/><circle cx="328.94" cy="940.9" r="10.32"/><circle cx="327.85" cy="939.82" r="10.32"/>
<circle cx="326.77" cy="938.74" r="10.32"/><circle cx="325.69" cy="937.66" r="10.32"/><circle cx="324.61" cy="936.58" r="10.32"/><circle cx="323.53" cy="935.5" r="10.32"/><circle cx="322.44" cy="934.41" r="10.32"/><circle cx="321.36" cy="933.33" r="10.32"/>
<circle cx="320.28" cy="932.25" r="10.32"/><circle cx="319.2" cy="931.17" r="10.32"/><circle cx="318.12" cy="930.09" r="10.32"/><circle cx="317.03" cy="929" r="10.32"/><circle cx="315.95" cy="927.92" r="10.32"/><circle cx="314.87" cy="926.84" r="10.32"/>
<circle cx="313.79" cy="925.76" r="10.32"/><circle cx="312.71" cy="924.68" r="10.32"/><circle cx="311.62" cy="923.6" r="10.32"/><circle cx="310.54" cy="922.52" r="10.32"/><circle cx="309.46" cy="921.43" r="10.32"/><circle cx="308.38" cy="920.35" r="10.32"/>
<circle cx="307.3" cy="919.27" r="10.32"/><circle cx="306.21" cy="918.19" r="10.32"/><circle cx="305.13" cy="917.11" r="10.32"/><circle cx="304.05" cy="916.03" r="10.32"/><circle cx="302.97" cy="914.94" r="10.32"/><circle cx="301.89" cy="913.86" r="10.32"/>
<circle cx="300.8" cy="912.78" r="10.32"/><circle cx="299.72" cy="911.7" r="10.32"/><circle cx="298.64" cy="910.62" r="10.32"/><circle cx="297.56" cy="909.54" r="10.32"/><circle cx="296.48" cy="908.45" r="10.32"/><circle cx="295.39" cy="907.37" r="10.32"/>
<circle cx="294.31" cy="906.29" r="10.32"/><circle cx="293.23" cy="905.21" r="10.32"/><circle cx="292.15" cy="904.13" r="10.32"/><circle cx="291.07" cy="903.05" r="10.32"/><circle cx="289.98" cy="901.96" r="10.32"/><circle cx="288.9" cy="900.88" r="10.32"/>
<circle cx="287.82" cy="899.8" r="10.32"/><circle cx="286.74" cy="898.72" r="10.32"/><circle cx="285.66" cy="897.64" r="10.32"/><circle cx="284.57" cy="896.56" r="10.32"/><circle cx="283.49" cy="895.47" r="10.32"/><circle cx="282.41" cy="894.39" r="10.32"/>
<circle cx="281.33" cy="893.31" r="10.32"/><circle cx="280.25" cy="892.23" r="10.32"/><circle cx="279.16" cy="891.15" r="10.32"/><circle cx="278.08" cy="890.07" r="10.32"/><circle cx="277" cy="888.98" r="10.32"/><circle cx="275.92" cy="887.9" r="10.32"/>
<circle cx="274.84" cy="886.82" r="10.32"/><circle cx="273.75" cy="885.74" r="10.32"/><circle cx="272.67" cy="884.66" r="10.32"/><circle cx="271.59" cy="883.58" r="10.32"/><circle cx="270.51" cy="882.49" r="10.32"/><circle cx="269.43" cy="881.41" r="10.32"/>
<circle cx="268.34" cy="880.33" r="10.32"/><circle cx="267.26" cy="879.25" r="10.32"/><circle cx="265.76" cy="878.98" r="10.32"/><circle cx="264.25" cy="878.72" r="10.32"/><circle cx="262.74" cy="878.45" r="10.32"/><circle cx="261.23" cy="878.19" r="10.32"/>
<circle cx="259.73" cy="877.92" r="10.32"/><circle cx="258.22" cy="877.65" r="10.32"/><circle cx="256.71" cy="877.39" r="10.32"/><circle cx="255.21" cy="877.12" r="10.32"/><circle cx="253.7" cy="876.86" r="10.32"/>
</g>
<path d="M28.14 575.3V997.15H450.12" fill="none" stroke="#484848" stroke-width="1.2"/>
<path d="M60.6 997.15v-4.6M28.14 964.7h4.6M125.52 997.15v-4.6M28.14 899.8h4.6M190.44 997.15v-4.6M28.14 834.9h4.6M255.36 997.15v-4.6M28.14 770h4.6M320.28 997.15v-4.6M28.14 705.1h4.6M385.2 997.15v-4.6M28.14 640.2h4.6M450.12 997.15v-4.6M28.14 575.3h4.6" fill="none" stroke="#484848" stroke-width="1.1"/>
<text class="tk" transform="translate(60.6 1012.35) scale(.93 1)" text-anchor="middle">0</text>
<text class="tk" transform="translate(24.34 971.45) scale(.93 1)" text-anchor="end">0</text>
<text class="tk" transform="translate(125.52 1012.35) scale(.93 1)" text-anchor="middle">2</text>
<text class="tk" transform="translate(24.34 906.61) scale(.93 1)" text-anchor="end">2</text>
<text class="tk" transform="translate(190.44 1012.35) scale(.93 1)" text-anchor="middle">4</text>
<text class="tk" transform="translate(24.34 841.77) scale(.93 1)" text-anchor="end">4</text>
<text class="tk" transform="translate(255.36 1012.35) scale(.93 1)" text-anchor="middle">6</text>
<text class="tk" transform="translate(24.34 776.93) scale(.93 1)" text-anchor="end">6</text>
<text class="tk" transform="translate(320.28 1012.35) scale(.93 1)" text-anchor="middle">8</text>
<text class="tk" transform="translate(24.34 712.09) scale(.93 1)" text-anchor="end">8</text>
<text class="tk" transform="translate(385.2 1012.35) scale(.93 1)" text-anchor="middle">10</text>
<text class="tk" transform="translate(24.34 647.25) scale(.93 1)" text-anchor="end">10</text>
<text class="tk" transform="translate(450.12 1012.35) scale(.93 1)" text-anchor="middle">12</text>
<text class="tk" transform="translate(24.34 582.41) scale(.93 1)" text-anchor="end">12</text>
<text class="al" x="239.13" y="1024.65" text-anchor="middle">x(nm) 090°</text>
<text class="al" transform="translate(12.84 784.23) rotate(-90)" text-anchor="middle">y(nm) 000°</text>
<path d="M384.6 635.4l5.2 8.8h-10.4z" fill="none" stroke="#4472c4" stroke-width="1.1"/>
<text class="sm" x="358.94" y="968" textLength="15" lengthAdjust="spacingAndGlyphs">TS1</text>
<text class="sm" x="289.62" y="902.9" textLength="8.5" lengthAdjust="spacingAndGlyphs">60</text>
<text class="sm" x="140.63" y="916.85" textLength="8.5" lengthAdjust="spacingAndGlyphs">60</text>
<path d="M60.6 964.7L70.34 954.64L89.81 934.52L94.68 929.33L98.9 925.44L104.42 921.87L110.91 918.62L117.41 916.03L125.52 915.05L143.37 913.43L165.93 910.83L172.59 910.35L177.46 910.51L180.7 911.48L183.95 913.27" fill="none" stroke="#000" stroke-width="2.55" stroke-linejoin="round" stroke-linecap="round"/>
<rect x="56.95" y="961.05" width="7.3" height="7.3" fill="none" stroke="#b42aa2" stroke-width="1.6"/>
<text class="pl" x="44.4" y="610">(d)</text>
<text class="big" x="391.9" y="646.9">Goal</text>
<text class="big" style="font-size:24.3px" x="348.3" y="940.7" textLength="42.7" lengthAdjust="spacingAndGlyphs">TS1</text>
<text class="big" x="76.2" y="982">OS</text>
</g>
<g id="panel-e" class="sans">
<clipPath id="clip-e"><rect x="497.35" y="586" width="417.35" height="418"/></clipPath>
<g class="ts" clip-path="url(#clip-e)">
<circle cx="816.85" cy="972" r="10.16"/><circle cx="815.78" cy="970.93" r="10.16"/><circle cx="814.72" cy="969.87" r="10.16"/><circle cx="813.65" cy="968.8" r="10.16"/><circle cx="812.59" cy="967.73" r="10.16"/><circle cx="811.52" cy="966.67" r="10.16"/>
<circle cx="810.46" cy="965.6" r="10.16"/><circle cx="809.39" cy="964.53" r="10.16"/><circle cx="808.33" cy="963.47" r="10.16"/><circle cx="807.26" cy="962.4" r="10.16"/><circle cx="806.2" cy="961.33" r="10.16"/><circle cx="805.13" cy="960.27" r="10.16"/>
<circle cx="804.07" cy="959.2" r="10.16"/><circle cx="803" cy="958.13" r="10.16"/><circle cx="801.94" cy="957.07" r="10.16"/><circle cx="800.88" cy="956" r="10.16"/><circle cx="799.81" cy="954.93" r="10.16"/><circle cx="798.74" cy="953.87" r="10.16"/>
<circle cx="797.68" cy="952.8" r="10.16"/><circle cx="796.62" cy="951.73" r="10.16"/><circle cx="795.55" cy="950.67" r="10.16"/><circle cx="794.48" cy="949.6" r="10.16"/><circle cx="793.42" cy="948.53" r="10.16"/><circle cx="792.35" cy="947.47" r="10.16"/>
<circle cx="791.29" cy="946.4" r="10.16"/><circle cx="790.22" cy="945.33" r="10.16"/><circle cx="789.16" cy="944.27" r="10.16"/><circle cx="788.09" cy="943.2" r="10.16"/><circle cx="787.03" cy="942.13" r="10.16"/><circle cx="785.96" cy="941.07" r="10.16"/>
<circle cx="784.9" cy="940" r="10.16"/><circle cx="783.83" cy="938.93" r="10.16"/><circle cx="782.77" cy="937.87" r="10.16"/><circle cx="781.7" cy="936.8" r="10.16"/><circle cx="780.64" cy="935.73" r="10.16"/><circle cx="779.57" cy="934.67" r="10.16"/>
<circle cx="778.51" cy="933.6" r="10.16"/><circle cx="777.44" cy="932.53" r="10.16"/><circle cx="776.38" cy="931.47" r="10.16"/><circle cx="775.31" cy="930.4" r="10.16"/><circle cx="774.25" cy="929.33" r="10.16"/><circle cx="773.18" cy="928.27" r="10.16"/>
<circle cx="772.12" cy="927.2" r="10.16"/><circle cx="771.05" cy="926.13" r="10.16"/><circle cx="769.99" cy="925.07" r="10.16"/><circle cx="768.92" cy="924" r="10.16"/><circle cx="767.86" cy="922.93" r="10.16"/><circle cx="766.79" cy="921.87" r="10.16"/>
<circle cx="765.73" cy="920.8" r="10.16"/><circle cx="764.66" cy="919.73" r="10.16"/><circle cx="763.6" cy="918.67" r="10.16"/><circle cx="762.53" cy="917.6" r="10.16"/><circle cx="761.47" cy="916.53" r="10.16"/><circle cx="760.4" cy="915.47" r="10.16"/>
<circle cx="759.34" cy="914.4" r="10.16"/><circle cx="758.27" cy="913.33" r="10.16"/><circle cx="757.21" cy="912.27" r="10.16"/><circle cx="756.14" cy="911.2" r="10.16"/><circle cx="755.08" cy="910.13" r="10.16"/><circle cx="754.01" cy="909.07" r="10.16"/>
<circle cx="752.95" cy="908" r="10.16"/><circle cx="751.88" cy="906.93" r="10.16"/><circle cx="750.82" cy="905.87" r="10.16"/><circle cx="749.75" cy="904.8" r="10.16"/><circle cx="748.69" cy="903.73" r="10.16"/><circle cx="747.62" cy="902.67" r="10.16"/>
<circle cx="746.56" cy="901.6" r="10.16"/><circle cx="745.49" cy="900.53" r="10.16"/><circle cx="744.43" cy="899.47" r="10.16"/><circle cx="743.37" cy="898.4" r="10.16"/><circle cx="742.3" cy="897.33" r="10.16"/><circle cx="741.23" cy="896.27" r="10.16"/>
<circle cx="740.17" cy="895.2" r="10.16"/><circle cx="739.1" cy="894.13" r="10.16"/><circle cx="738.04" cy="893.07" r="10.16"/><circle cx="736.97" cy="892" r="10.16"/><circle cx="735.91" cy="890.93" r="10.16"/><circle cx="734.85" cy="889.87" r="10.16"/>
<circle cx="733.78" cy="888.8" r="10.16"/><circle cx="732.71" cy="887.73" r="10.16"/><circle cx="731.23" cy="887.47" r="10.16"/><circle cx="729.75" cy="887.21" r="10.16"/><circle cx="728.27" cy="886.95" r="10.16"/><circle cx="726.78" cy="886.69" r="10.16"/>
<circle cx="725.3" cy="886.42" r="10.16"/><circle cx="723.82" cy="886.16" r="10.16"/><circle cx="722.33" cy="885.9" r="10.16"/><circle cx="720.85" cy="885.64" r="10.16"/><circle cx="719.37" cy="885.38" r="10.16"/><circle cx="717.88" cy="885.11" r="10.16"/>
<circle cx="716.4" cy="884.85" r="10.16"/><circle cx="714.92" cy="884.59" r="10.16"/><circle cx="713.43" cy="884.33" r="10.16"/><circle cx="711.95" cy="884.07" r="10.16"/><circle cx="710.47" cy="883.8" r="10.16"/><circle cx="708.98" cy="883.54" r="10.16"/>
<circle cx="707.5" cy="883.28" r="10.16"/><circle cx="706.02" cy="883.02" r="10.16"/><circle cx="704.53" cy="882.76" r="10.16"/><circle cx="703.05" cy="882.49" r="10.16"/><circle cx="701.57" cy="882.23" r="10.16"/><circle cx="700.08" cy="881.97" r="10.16"/>
<circle cx="698.6" cy="881.71" r="10.16"/><circle cx="697.12" cy="881.45" r="10.16"/><circle cx="695.63" cy="881.18" r="10.16"/><circle cx="694.15" cy="880.92" r="10.16"/><circle cx="692.67" cy="880.66" r="10.16"/><circle cx="691.18" cy="880.4" r="10.16"/>
<circle cx="689.7" cy="880.14" r="10.16"/><circle cx="688.22" cy="879.87" r="10.16"/><circle cx="686.73" cy="879.61" r="10.16"/><circle cx="685.25" cy="879.35" r="10.16"/><circle cx="683.77" cy="879.09" r="10.16"/><circle cx="682.28" cy="878.83" r="10.16"/>
<circle cx="680.8" cy="878.57" r="10.16"/><circle cx="679.32" cy="878.3" r="10.16"/><circle cx="677.83" cy="878.04" r="10.16"/><circle cx="676.35" cy="877.78" r="10.16"/><circle cx="674.87" cy="877.52" r="10.16"/><circle cx="673.38" cy="877.26" r="10.16"/>
</g>
<path d="M497.35 588V1004H912.7" fill="none" stroke="#484848" stroke-width="1.2"/>
<path d="M529.3 1004v-4.6M497.35 972h4.6M593.2 1004v-4.6M497.35 908h4.6M657.1 1004v-4.6M497.35 844h4.6M721 1004v-4.6M497.35 780h4.6M784.9 1004v-4.6M497.35 716h4.6M848.8 1004v-4.6M497.35 652h4.6M912.7 1004v-4.6M497.35 588h4.6" fill="none" stroke="#484848" stroke-width="1.1"/>
<text class="tk" transform="translate(528.2 1019.1) scale(.93 1)" text-anchor="middle">0</text>
<text class="tk" transform="translate(493.55 978.65) scale(.93 1)" text-anchor="end">0</text>
<text class="tk" transform="translate(593.22 1019.1) scale(.93 1)" text-anchor="middle">2</text>
<text class="tk" transform="translate(493.55 913.81) scale(.93 1)" text-anchor="end">2</text>
<text class="tk" transform="translate(658.24 1019.1) scale(.93 1)" text-anchor="middle">4</text>
<text class="tk" transform="translate(493.55 848.97) scale(.93 1)" text-anchor="end">4</text>
<text class="tk" transform="translate(723.26 1019.1) scale(.93 1)" text-anchor="middle">6</text>
<text class="tk" transform="translate(493.55 784.13) scale(.93 1)" text-anchor="end">6</text>
<text class="tk" transform="translate(788.28 1019.1) scale(.93 1)" text-anchor="middle">8</text>
<text class="tk" transform="translate(493.55 719.29) scale(.93 1)" text-anchor="end">8</text>
<text class="tk" transform="translate(853.3 1019.1) scale(.93 1)" text-anchor="middle">10</text>
<text class="tk" transform="translate(493.55 654.45) scale(.93 1)" text-anchor="end">10</text>
<text class="tk" transform="translate(918.32 1019.1) scale(.93 1)" text-anchor="middle">12</text>
<text class="tk" transform="translate(493.55 589.61) scale(.93 1)" text-anchor="end">12</text>
<text class="al" x="707.32" y="1031.5" text-anchor="middle">x(nm) 090°</text>
<text class="al" transform="translate(482.05 794) rotate(-90)" text-anchor="middle">y(nm) 000°</text>
<path d="M849.8 646.3l5.2 8.8h-10.4z" fill="none" stroke="#4472c4" stroke-width="1.1"/>
<text class="sm" x="823.05" y="975.3" textLength="15" lengthAdjust="spacingAndGlyphs">TS1</text>
<text class="sm" x="754.75" y="911.1" textLength="8.5" lengthAdjust="spacingAndGlyphs">60</text>
<text class="sm" x="608.1" y="924.86" textLength="8.5" lengthAdjust="spacingAndGlyphs">60</text>
<path d="M529.3 972L538.88 962.08L558.05 942.24L562.85 937.12L567 933.28L572.43 929.76L578.82 926.56L585.21 924L593.2 923.04L610.77 921.44L632.98 918.88L639.53 918.4L644.32 918.56L647.51 919.52L650.71 921.28L654.54 924.64L658.7 928.48L663.49 932.96L668.6 937.12L672.12 939.04L675.63 940L679.46 940.64L682.66 940.64L686.49 939.68L690.01 938.4L692.88 936.8" fill="none" stroke="#000" stroke-width="2.55" stroke-linejoin="round" stroke-linecap="round"/>
<rect x="525.65" y="968.35" width="7.3" height="7.3" fill="none" stroke="#b42aa2" stroke-width="1.6"/>
<text class="pl" x="518" y="609.3">(e)</text>
<text class="big" x="857.6" y="654.7">Goal</text>
<text class="big" style="font-size:24.3px" x="809.2" y="953.1" textLength="42.7" lengthAdjust="spacingAndGlyphs">TS1</text>
<text class="big" x="544.5" y="990.3">OS</text>
</g>
<g id="panel-f" class="sans">
<clipPath id="clip-f"><rect x="965.37" y="580.6" width="418.39" height="418"/></clipPath>
<g class="ts" clip-path="url(#clip-f)">
<circle cx="1285.67" cy="966.6" r="10.19"/><circle cx="1284.6" cy="965.53" r="10.19"/><circle cx="1283.53" cy="964.47" r="10.19"/><circle cx="1282.47" cy="963.4" r="10.19"/><circle cx="1281.4" cy="962.33" r="10.19"/><circle cx="1280.33" cy="961.27" r="10.19"/>
<circle cx="1279.26" cy="960.2" r="10.19"/><circle cx="1278.2" cy="959.13" r="10.19"/><circle cx="1277.13" cy="958.07" r="10.19"/><circle cx="1276.06" cy="957" r="10.19"/><circle cx="1274.99" cy="955.93" r="10.19"/><circle cx="1273.93" cy="954.87" r="10.19"/>
<circle cx="1272.86" cy="953.8" r="10.19"/><circle cx="1271.79" cy="952.73" r="10.19"/><circle cx="1270.72" cy="951.67" r="10.19"/><circle cx="1269.65" cy="950.6" r="10.19"/><circle cx="1268.59" cy="949.53" r="10.19"/><circle cx="1267.52" cy="948.47" r="10.19"/>
<circle cx="1266.45" cy="947.4" r="10.19"/><circle cx="1265.38" cy="946.33" r="10.19"/><circle cx="1264.32" cy="945.27" r="10.19"/><circle cx="1263.25" cy="944.2" r="10.19"/><circle cx="1262.18" cy="943.13" r="10.19"/><circle cx="1261.11" cy="942.07" r="10.19"/>
<circle cx="1260.05" cy="941" r="10.19"/><circle cx="1258.98" cy="939.93" r="10.19"/><circle cx="1257.91" cy="938.87" r="10.19"/><circle cx="1256.84" cy="937.8" r="10.19"/><circle cx="1255.78" cy="936.73" r="10.19"/><circle cx="1254.71" cy="935.67" r="10.19"/>
<circle cx="1253.64" cy="934.6" r="10.19"/><circle cx="1252.57" cy="933.53" r="10.19"/><circle cx="1251.5" cy="932.47" r="10.19"/><circle cx="1250.44" cy="931.4" r="10.19"/><circle cx="1249.37" cy="930.33" r="10.19"/><circle cx="1248.3" cy="929.27" r="10.19"/>
<circle cx="1247.23" cy="928.2" r="10.19"/><circle cx="1246.17" cy="927.13" r="10.19"/><circle cx="1245.1" cy="926.07" r="10.19"/><circle cx="1244.03" cy="925" r="10.19"/><circle cx="1242.96" cy="923.93" r="10.19"/><circle cx="1241.9" cy="922.87" r="10.19"/>
<circle cx="1240.83" cy="921.8" r="10.19"/><circle cx="1239.76" cy="920.73" r="10.19"/><circle cx="1238.69" cy="919.67" r="10.19"/><circle cx="1237.62" cy="918.6" r="10.19"/><circle cx="1236.56" cy="917.53" r="10.19"/><circle cx="1235.49" cy="916.47" r="10.19"/>
<circle cx="1234.42" cy="915.4" r="10.19"/><circle cx="1233.35" cy="914.33" r="10.19"/><circle cx="1232.29" cy="913.27" r="10.19"/><circle cx="1231.22" cy="912.2" r="10.19"/><circle cx="1230.15" cy="911.13" r="10.19"/><circle cx="1229.08" cy="910.07" r="10.19"/>
<circle cx="1228.02" cy="909" r="10.19"/><circle cx="1226.95" cy="907.93" r="10.19"/><circle cx="1225.88" cy="906.87" r="10.19"/><circle cx="1224.81" cy="905.8" r="10.19"/><circle cx="1223.75" cy="904.73" r="10.19"/><circle cx="1222.68" cy="903.67" r="10.19"/>
<circle cx="1221.61" cy="902.6" r="10.19"/><circle cx="1220.54" cy="901.53" r="10.19"/><circle cx="1219.47" cy="900.47" r="10.19"/><circle cx="1218.41" cy="899.4" r="10.19"/><circle cx="1217.34" cy="898.33" r="10.19"/><circle cx="1216.27" cy="897.27" r="10.19"/>
<circle cx="1215.2" cy="896.2" r="10.19"/><circle cx="1214.14" cy="895.13" r="10.19"/><circle cx="1213.07" cy="894.07" r="10.19"/><circle cx="1212" cy="893" r="10.19"/><circle cx="1210.93" cy="891.93" r="10.19"/><circle cx="1209.87" cy="890.87" r="10.19"/>
<circle cx="1208.8" cy="889.8" r="10.19"/><circle cx="1207.73" cy="888.73" r="10.19"/><circle cx="1206.66" cy="887.67" r="10.19"/><circle cx="1205.6" cy="886.6" r="10.19"/><circle cx="1204.53" cy="885.53" r="10.19"/><circle cx="1203.46" cy="884.47" r="10.19"/>
<circle cx="1202.39" cy="883.4" r="10.19"/><circle cx="1201.32" cy="882.33" r="10.19"/><circle cx="1199.84" cy="882.07" r="10.19"/><circle cx="1198.35" cy="881.81" r="10.19"/><circle cx="1196.86" cy="881.55" r="10.19"/><circle cx="1195.38" cy="881.29" r="10.19"/>
<circle cx="1193.89" cy="881.02" r="10.19"/><circle cx="1192.4" cy="880.76" r="10.19"/><circle cx="1190.92" cy="880.5" r="10.19"/><circle cx="1189.43" cy="880.24" r="10.19"/><circle cx="1187.94" cy="879.98" r="10.19"/><circle cx="1186.45" cy="879.71" r="10.19"/>
<circle cx="1184.97" cy="879.45" r="10.19"/><circle cx="1183.48" cy="879.19" r="10.19"/><circle cx="1181.99" cy="878.93" r="10.19"/><circle cx="1180.51" cy="878.67" r="10.19"/><circle cx="1179.02" cy="878.4" r="10.19"/><circle cx="1177.53" cy="878.14" r="10.19"/>
<circle cx="1176.05" cy="877.88" r="10.19"/><circle cx="1174.56" cy="877.62" r="10.19"/><circle cx="1173.07" cy="877.36" r="10.19"/><circle cx="1171.58" cy="877.09" r="10.19"/><circle cx="1170.1" cy="876.83" r="10.19"/><circle cx="1168.61" cy="876.57" r="10.19"/>
<circle cx="1167.12" cy="876.31" r="10.19"/><circle cx="1165.64" cy="876.05" r="10.19"/><circle cx="1164.15" cy="875.78" r="10.19"/><circle cx="1162.66" cy="875.52" r="10.19"/><circle cx="1161.18" cy="875.26" r="10.19"/><circle cx="1159.69" cy="875" r="10.19"/>
<circle cx="1158.2" cy="874.74" r="10.19"/><circle cx="1156.72" cy="874.47" r="10.19"/><circle cx="1155.23" cy="874.21" r="10.19"/><circle cx="1153.74" cy="873.95" r="10.19"/><circle cx="1152.25" cy="873.69" r="10.19"/><circle cx="1150.77" cy="873.43" r="10.19"/>
<circle cx="1149.28" cy="873.17" r="10.19"/><circle cx="1147.79" cy="872.9" r="10.19"/><circle cx="1146.31" cy="872.64" r="10.19"/><circle cx="1144.82" cy="872.38" r="10.19"/><circle cx="1143.33" cy="872.12" r="10.19"/><circle cx="1141.85" cy="871.86" r="10.19"/>
<circle cx="1140.36" cy="871.59" r="10.19"/><circle cx="1138.87" cy="871.33" r="10.19"/><circle cx="1137.38" cy="871.07" r="10.19"/><circle cx="1135.9" cy="870.81" r="10.19"/><circle cx="1134.41" cy="870.55" r="10.19"/><circle cx="1132.92" cy="870.28" r="10.19"/>
<circle cx="1131.44" cy="870.02" r="10.19"/><circle cx="1129.95" cy="869.76" r="10.19"/><circle cx="1128.46" cy="869.5" r="10.19"/><circle cx="1126.98" cy="869.24" r="10.19"/><circle cx="1125.49" cy="868.97" r="10.19"/><circle cx="1124" cy="868.71" r="10.19"/>
<circle cx="1122.51" cy="868.45" r="10.19"/><circle cx="1121.03" cy="868.19" r="10.19"/><circle cx="1119.54" cy="867.93" r="10.19"/><circle cx="1118.05" cy="867.66" r="10.19"/><circle cx="1116.57" cy="867.4" r="10.19"/><circle cx="1115.08" cy="867.14" r="10.19"/>
<circle cx="1113.59" cy="866.88" r="10.19"/><circle cx="1112.11" cy="866.62" r="10.19"/><circle cx="1110.62" cy="866.35" r="10.19"/><circle cx="1109.13" cy="866.09" r="10.19"/><circle cx="1107.65" cy="865.83" r="10.19"/><circle cx="1106.16" cy="865.57" r="10.19"/>
<circle cx="1104.67" cy="865.31" r="10.19"/><circle cx="1103.18" cy="865.04" r="10.19"/><circle cx="1101.7" cy="864.78" r="10.19"/><circle cx="1100.21" cy="864.52" r="10.19"/><circle cx="1098.72" cy="864.26" r="10.19"/><circle cx="1097.24" cy="864" r="10.19"/>
<circle cx="1095.75" cy="863.74" r="10.19"/><circle cx="1094.26" cy="863.47" r="10.19"/><circle cx="1092.78" cy="863.21" r="10.19"/><circle cx="1091.29" cy="862.95" r="10.19"/><circle cx="1089.8" cy="862.69" r="10.19"/><circle cx="1088.31" cy="862.43" r="10.19"/>
<circle cx="1086.83" cy="862.16" r="10.19"/><circle cx="1085.34" cy="861.9" r="10.19"/><circle cx="1083.85" cy="861.64" r="10.19"/><circle cx="1082.37" cy="861.38" r="10.19"/><circle cx="1080.88" cy="861.12" r="10.19"/><circle cx="1079.39" cy="860.85" r="10.19"/>
<circle cx="1077.91" cy="860.59" r="10.19"/><circle cx="1076.42" cy="860.33" r="10.19"/><circle cx="1074.93" cy="860.07" r="10.19"/><circle cx="1073.44" cy="859.81" r="10.19"/><circle cx="1071.96" cy="859.54" r="10.19"/><circle cx="1070.47" cy="859.28" r="10.19"/>
<circle cx="1068.98" cy="859.02" r="10.19"/><circle cx="1067.5" cy="858.76" r="10.19"/><circle cx="1066.01" cy="858.5" r="10.19"/><circle cx="1064.52" cy="858.23" r="10.19"/><circle cx="1063.04" cy="857.97" r="10.19"/><circle cx="1061.55" cy="857.71" r="10.19"/>
<circle cx="1060.06" cy="857.45" r="10.19"/><circle cx="1058.58" cy="857.19" r="10.19"/><circle cx="1057.09" cy="856.92" r="10.19"/><circle cx="1055.6" cy="856.66" r="10.19"/><circle cx="1054.11" cy="856.4" r="10.19"/><circle cx="1052.63" cy="856.14" r="10.19"/>
<circle cx="1051.14" cy="855.88" r="10.19"/><circle cx="1049.65" cy="855.61" r="10.19"/><circle cx="1048.17" cy="855.35" r="10.19"/><circle cx="1046.68" cy="855.09" r="10.19"/><circle cx="1045.19" cy="854.83" r="10.19"/><circle cx="1043.71" cy="854.57" r="10.19"/>
<circle cx="1042.22" cy="854.3" r="10.19"/><circle cx="1040.73" cy="854.04" r="10.19"/><circle cx="1039.24" cy="853.78" r="10.19"/><circle cx="1037.76" cy="853.52" r="10.19"/><circle cx="1036.27" cy="853.26" r="10.19"/><circle cx="1034.78" cy="853" r="10.19"/>
<circle cx="1033.3" cy="852.73" r="10.19"/><circle cx="1031.81" cy="852.47" r="10.19"/><circle cx="1030.32" cy="852.21" r="10.19"/><circle cx="1028.84" cy="851.95" r="10.19"/><circle cx="1027.35" cy="851.69" r="10.19"/><circle cx="1025.86" cy="851.42" r="10.19"/>
<circle cx="1024.37" cy="851.16" r="10.19"/><circle cx="1022.89" cy="850.9" r="10.19"/><circle cx="1021.4" cy="850.64" r="10.19"/><circle cx="1019.91" cy="850.38" r="10.19"/><circle cx="1018.43" cy="850.11" r="10.19"/><circle cx="1016.94" cy="849.85" r="10.19"/>
<circle cx="1015.45" cy="849.59" r="10.19"/><circle cx="1013.97" cy="849.33" r="10.19"/><circle cx="1012.48" cy="849.07" r="10.19"/><circle cx="1010.99" cy="848.8" r="10.19"/><circle cx="1009.51" cy="848.54" r="10.19"/><circle cx="1008.02" cy="848.28" r="10.19"/>
<circle cx="1006.53" cy="848.02" r="10.19"/><circle cx="1005.04" cy="847.76" r="10.19"/><circle cx="1003.56" cy="847.49" r="10.19"/><circle cx="1002.07" cy="847.23" r="10.19"/><circle cx="1000.58" cy="846.97" r="10.19"/><circle cx="999.1" cy="846.71" r="10.19"/>
<circle cx="997.61" cy="846.45" r="10.19"/><circle cx="996.12" cy="846.18" r="10.19"/><circle cx="994.64" cy="845.92" r="10.19"/><circle cx="993.15" cy="845.66" r="10.19"/><circle cx="991.66" cy="845.4" r="10.19"/><circle cx="990.17" cy="845.14" r="10.19"/>
<circle cx="988.69" cy="844.87" r="10.19"/><circle cx="987.2" cy="844.61" r="10.19"/><circle cx="985.71" cy="844.35" r="10.19"/><circle cx="984.23" cy="844.09" r="10.19"/><circle cx="982.74" cy="843.83" r="10.19"/><circle cx="981.25" cy="843.57" r="10.19"/>
<circle cx="979.77" cy="843.3" r="10.19"/><circle cx="978.28" cy="843.04" r="10.19"/><circle cx="976.79" cy="842.78" r="10.19"/><circle cx="975.3" cy="842.52" r="10.19"/><circle cx="973.82" cy="842.26" r="10.19"/><circle cx="972.33" cy="841.99" r="10.19"/>
<circle cx="970.84" cy="841.73" r="10.19"/><circle cx="969.36" cy="841.47" r="10.19"/><circle cx="967.87" cy="841.21" r="10.19"/><circle cx="966.38" cy="840.95" r="10.19"/><circle cx="964.9" cy="840.68" r="10.19"/><circle cx="963.41" cy="840.42" r="10.19"/>
<circle cx="961.92" cy="840.16" r="10.19"/><circle cx="960.44" cy="839.9" r="10.19"/><circle cx="958.95" cy="839.64" r="10.19"/><circle cx="957.46" cy="839.37" r="10.19"/><circle cx="955.97" cy="839.11" r="10.19"/><circle cx="954.49" cy="838.85" r="10.19"/>
</g>
<path d="M965.37 582.6V998.6H1381.76" fill="none" stroke="#484848" stroke-width="1.2"/>
<path d="M997.4 998.6v-4.6M965.37 966.6h4.6M1061.46 998.6v-4.6M965.37 902.6h4.6M1125.52 998.6v-4.6M965.37 838.6h4.6M1189.58 998.6v-4.6M965.37 774.6h4.6M1253.64 998.6v-4.6M965.37 710.6h4.6M1317.7 998.6v-4.6M965.37 646.6h4.6M1381.76 998.6v-4.6M965.37 582.6h4.6" fill="none" stroke="#484848" stroke-width="1.1"/>
<text class="tk" transform="translate(997.4 1013.7) scale(.93 1)" text-anchor="middle">0</text>
<text class="tk" transform="translate(961.57 972.4) scale(.93 1)" text-anchor="end">0</text>
<text class="tk" transform="translate(1062.46 1013.7) scale(.93 1)" text-anchor="middle">2</text>
<text class="tk" transform="translate(961.57 907.72) scale(.93 1)" text-anchor="end">2</text>
<text class="tk" transform="translate(1127.52 1013.7) scale(.93 1)" text-anchor="middle">4</text>
<text class="tk" transform="translate(961.57 843.04) scale(.93 1)" text-anchor="end">4</text>
<text class="tk" transform="translate(1192.58 1013.7) scale(.93 1)" text-anchor="middle">6</text>
<text class="tk" transform="translate(961.57 778.36) scale(.93 1)" text-anchor="end">6</text>
<text class="tk" transform="translate(1257.64 1013.7) scale(.93 1)" text-anchor="middle">8</text>
<text class="tk" transform="translate(961.57 713.68) scale(.93 1)" text-anchor="end">8</text>
<text class="tk" transform="translate(1322.7 1013.7) scale(.93 1)" text-anchor="middle">10</text>
<text class="tk" transform="translate(961.57 649) scale(.93 1)" text-anchor="end">10</text>
<text class="tk" transform="translate(1387.76 1013.7) scale(.93 1)" text-anchor="middle">12</text>
<text class="tk" transform="translate(961.57 584.32) scale(.93 1)" text-anchor="end">12</text>
<text class="al" x="1176.27" y="1025.6" text-anchor="middle">x(nm) 090°</text>
<text class="al" transform="translate(950.07 787.6) rotate(-90)" text-anchor="middle">y(nm) 000°</text>
<path d="M1318.7 641.4l5.2 8.8h-10.4z" fill="none" stroke="#4472c4" stroke-width="1.1"/>
<text class="sm" x="1291.87" y="969.9" textLength="15" lengthAdjust="spacingAndGlyphs">TS1</text>
<text class="sm" x="1223.41" y="905.7" textLength="8.5" lengthAdjust="spacingAndGlyphs">60</text>
<text class="sm" x="1144.62" y="874.02" textLength="12.75" lengthAdjust="spacingAndGlyphs">120</text>
<text class="sm" x="1055.25" y="858.66" textLength="12.75" lengthAdjust="spacingAndGlyphs">180</text>
<text class="sm" x="967.17" y="843.62" textLength="12.75" lengthAdjust="spacingAndGlyphs">240</text>
<text class="sm" x="1076.39" y="919.46" textLength="8.5" lengthAdjust="spacingAndGlyphs">60</text>
<text class="sm" x="1162.39" y="934.82" textLength="12.75" lengthAdjust="spacingAndGlyphs">120</text>
<text class="sm" x="1209" y="851.62" textLength="12.75" lengthAdjust="spacingAndGlyphs">180</text>
<text class="sm" x="1256.08" y="766.18" textLength="12.75" lengthAdjust="spacingAndGlyphs">240</text>
<text class="sm" x="1302.52" y="683.3" textLength="12.75" lengthAdjust="spacingAndGlyphs">300</text>
<path d="M997.4 966.6L1007.01 956.68L1026.23 936.84L1031.03 931.72L1035.2 927.88L1040.64 924.36L1047.05 921.16L1053.45 918.6L1061.46 917.64L1079.08 916.04L1101.34 913.48L1107.9 913L1112.71 913.16L1115.91 914.12L1119.11 915.88L1122.96 919.24L1127.12 923.08L1131.93 927.56L1137.05 931.72L1140.57 933.64L1144.1 934.6L1147.94 935.24L1151.14 935.24L1154.99 934.28L1158.51 933L1161.39 931.4L1164.28 928.84L1166.52 925.64L1168.44 921.8L1179.97 900.36L1201.43 860.36L1314.5 653" fill="none" stroke="#000" stroke-width="2.55" stroke-linejoin="round" stroke-linecap="round"/>
<rect x="993.75" y="962.95" width="7.3" height="7.3" fill="none" stroke="#b42aa2" stroke-width="1.6"/>
<text class="pl" x="984.4" y="608.9">(f)</text>
<text class="big" x="1326.4" y="649">Goal</text>
<text class="big" style="font-size:24.3px" x="1280.7" y="944" textLength="42.7" lengthAdjust="spacingAndGlyphs">TS1</text>
<text class="big" x="1013.1" y="985">OS</text>
</g>
<g class="serif">
<text class="cap" x="12.7" y="501.7" textLength="1356.7" lengthAdjust="spacing">TS1 keeps her speed and course. When the distance from TS1 is about 6 nm, OS makes an early course change of approximately</text>
<text class="cap" x="12.7" y="533.1" textLength="1174" lengthAdjust="spacing">40° to starboard to pass her abaft by at least 1.9 nm. This simulation complies with COLREGS rules 15 and 16.</text>
<text class="cap" x="12.7" y="1064.7" textLength="1338.8" lengthAdjust="spacing">TS1 alters course by 35° to port and heads for the OS suddenly, the OS makes a further right turn of approximately 50° to keep</text>
<text class="cap" x="12.7" y="1096.4" textLength="1350.8" lengthAdjust="spacing">clear of TS1. This simulation complies with COLREGS rules 15 and 1, and shows the ability of this method to handle a reactive</text>
<text class="cap" x="12.7" y="1128.1">CA problem.</text>
</g>
</svg></body></html>
